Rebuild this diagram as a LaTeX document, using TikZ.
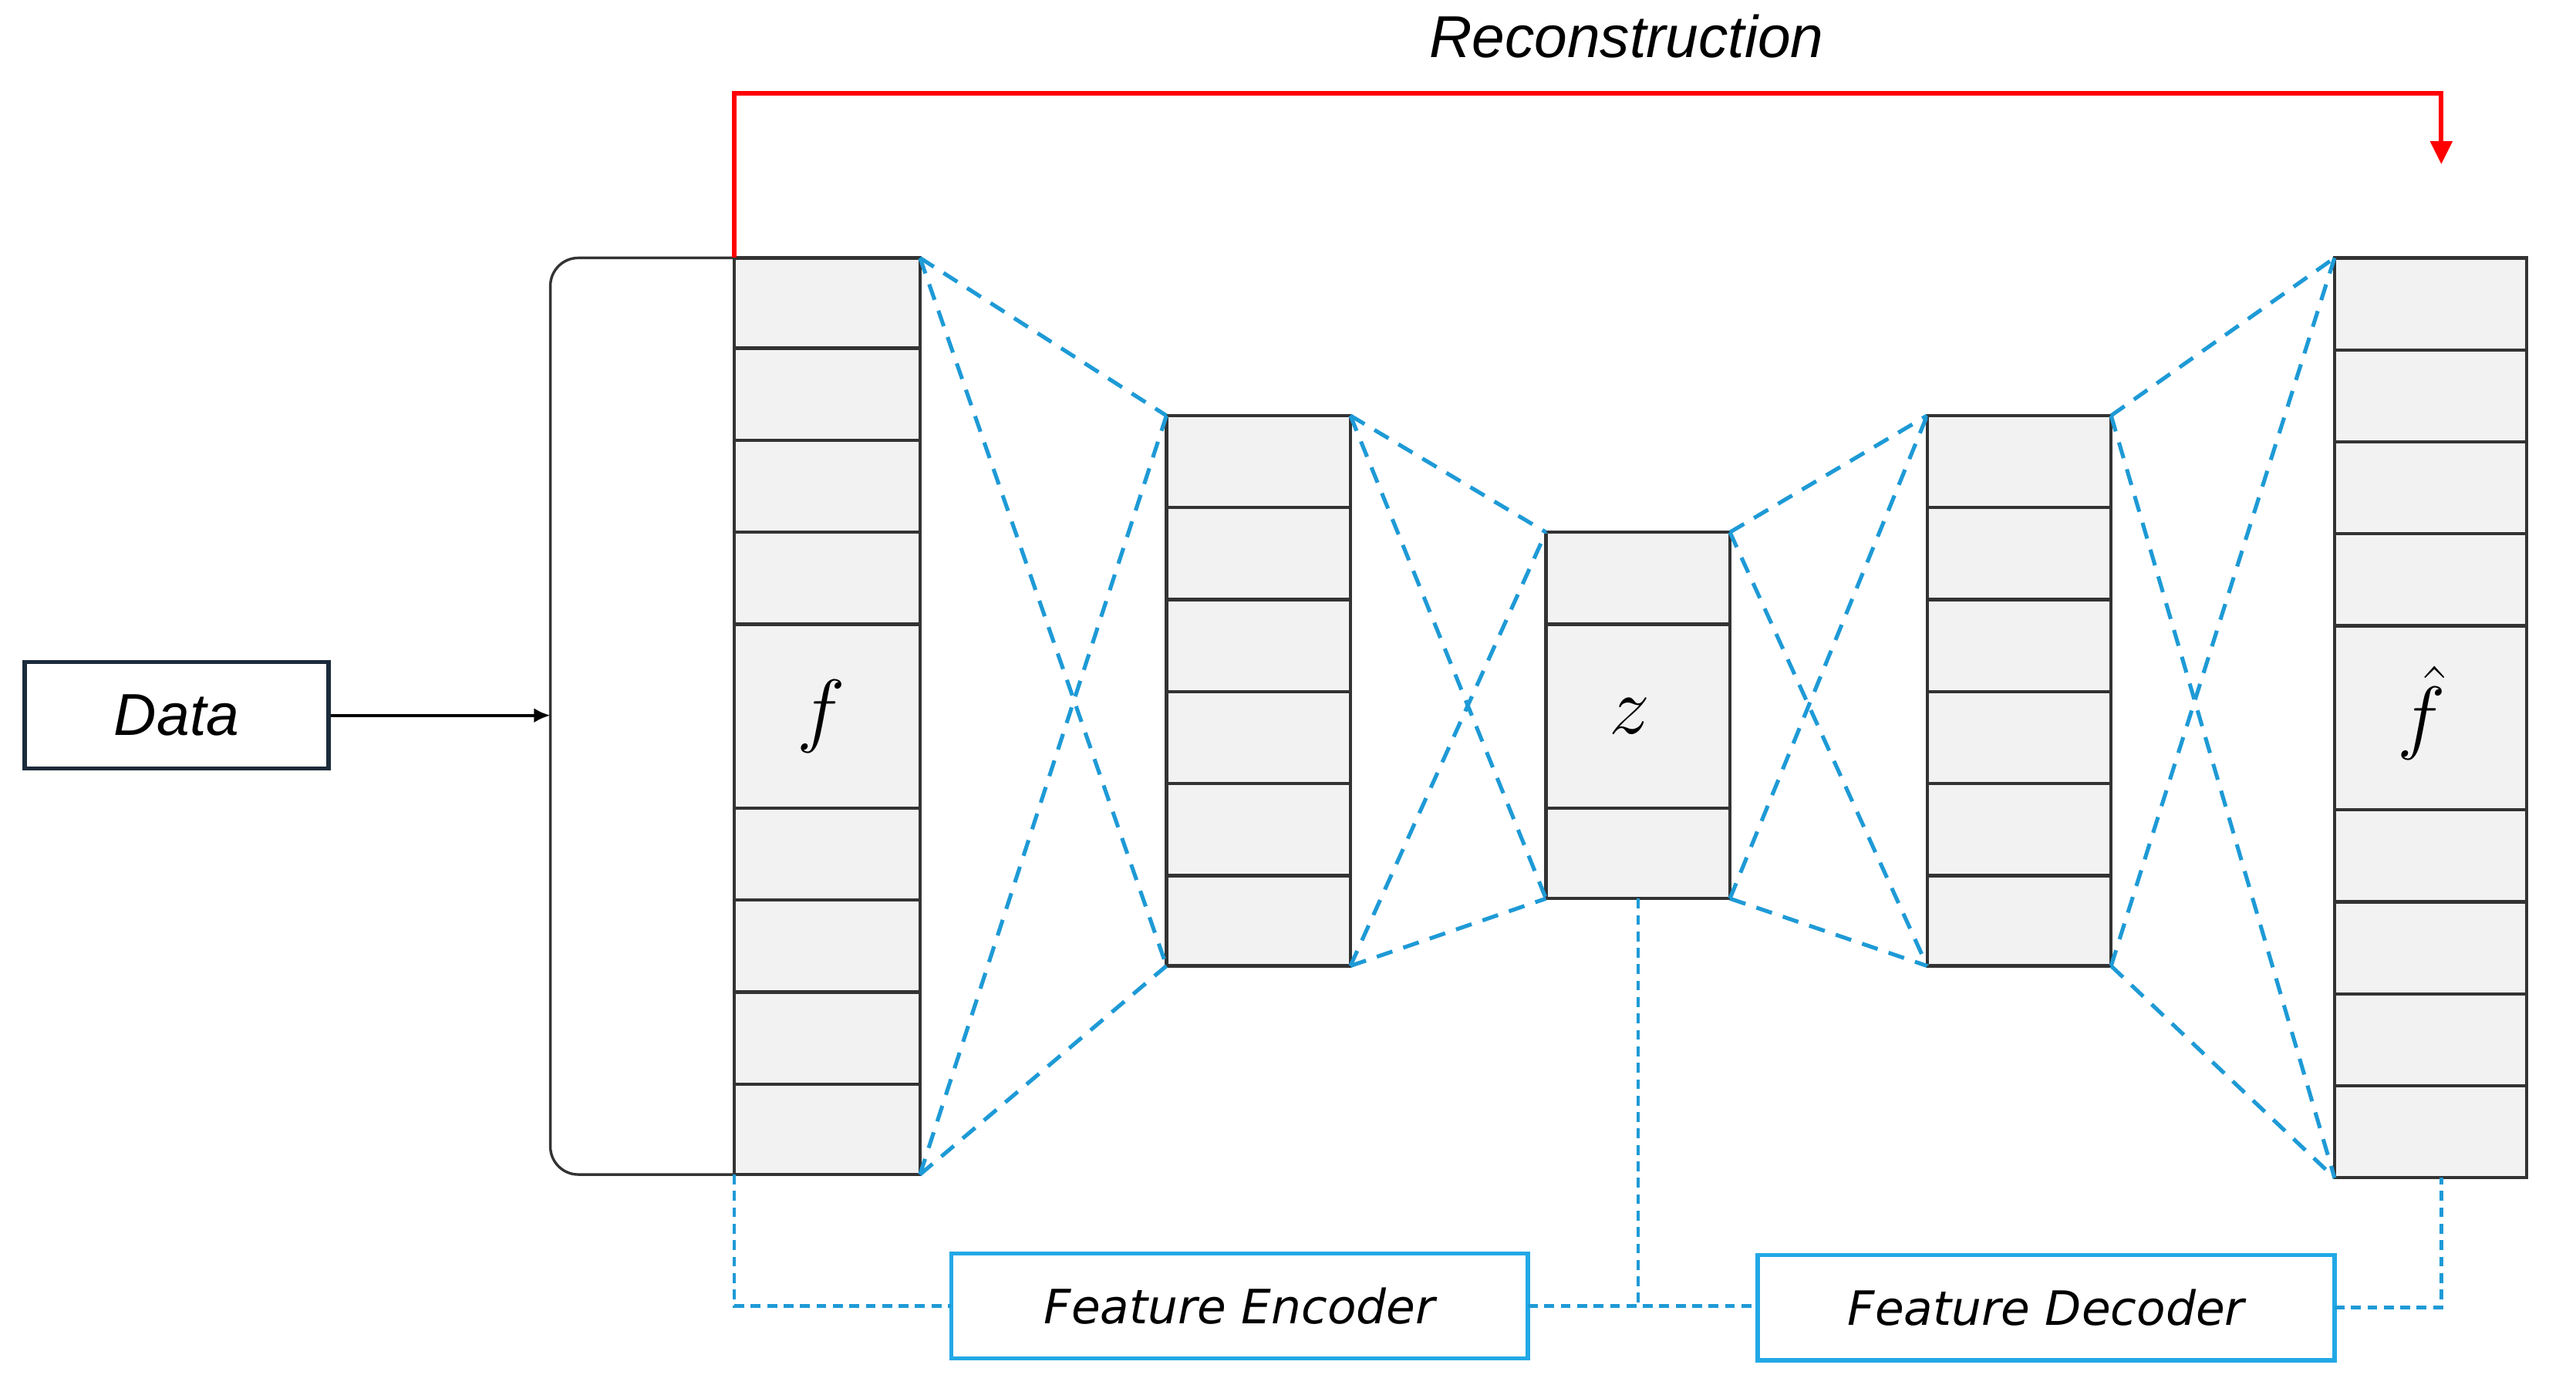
\documentclass[tikz,border=0pt]{standalone}
\usepackage{fontspec}
\setmainfont{Liberation Sans}
\newfontfamily\dejafont{DejaVu Sans}
\usetikzlibrary{arrows.meta,fit}
\definecolor{cellgray}{HTML}{F2F2F2}
\definecolor{edgegray}{HTML}{333333}
\definecolor{netblue}{HTML}{1E9AD6}
\definecolor{boxblue}{HTML}{22A8E6}
\definecolor{recred}{HTML}{FF0000}
\definecolor{datanavy}{HTML}{1C2B3A}
\begin{document}
\begin{tikzpicture}[x=0.5pt,y=-0.5pt,
  layer/.style={draw=edgegray, fill=cellgray, line width=1pt, inner sep=0pt, outer sep=0pt},
  cellline/.style={draw=edgegray, line width=1pt},
  link/.style={draw=netblue, line width=1.2pt, dash pattern=on 5pt off 3.5pt},
  thinlink/.style={draw=netblue, line width=1pt, dash pattern=on 3pt off 2pt},
  bluebox/.style={draw=boxblue, line width=1.3pt, inner sep=0pt, outer sep=0pt},
  lbl/.style={font=\itshape\fontsize{18}{20}\selectfont},
  boxlbl/.style={font=\dejafont\itshape\fontsize{14.4}{16}\selectfont},
  mathlbl/.style={font=\fontsize{25}{28}\selectfont, inner sep=0pt}]
\useasboundingbox (0,0) rectangle (1568,843);

% title
\node[lbl] (rec) at (990,22) {Reconstruction};

% data box
\node[draw=datanavy, line width=1.2pt, minimum width=92.5pt, minimum height=32.5pt, inner sep=0pt, lbl] (data) at (107.5,435.5) {Data};

% input bracket
\draw[edgegray, line width=0.8pt, rounded corners=8.5pt] (447,157) -- (335,157) -- (335,715) -- (447,715);
\coordinate (inleft) at (335,435.5);

% columns
\node[layer, fit={(447,157) (560,715)}] (f) {};
\foreach \yy in {212,268,324,380,492,548,604,660} \draw[cellline] (447,\yy) -- (560,\yy);
\node[mathlbl] (flbl) at (500,436) {$f$};

\node[layer, fit={(710,253) (822,588)}] (h1) {};
\foreach \yy in {309,365,421,477,533} \draw[cellline] (710,\yy) -- (822,\yy);

\node[layer, fit={(941,324) (1053,547)}] (z) {};
\foreach \yy in {380,492} \draw[cellline] (941,\yy) -- (1053,\yy);
\node[mathlbl] (zlbl) at (992,436) {$z$};

\node[layer, fit={(1173,253) (1285,588)}] (h2) {};
\foreach \yy in {309,365,421,477,533} \draw[cellline] (1173,\yy) -- (1285,\yy);

\node[layer, fit={(1421,157) (1538,717)}] (fh) {};
\foreach \yy in {213,269,325,381,493,549,605,661} \draw[cellline] (1421,\yy) -- (1538,\yy);
\node[mathlbl] (fhlbl) at (1474,434) {$\hat{f}$};

% network links
\foreach \a/\b in {f/h1, h1/z, z/h2, h2/fh} {
  \draw[link] (\a.north east) -- (\b.north west);
  \draw[link] (\a.north east) -- (\b.south west);
  \draw[link] (\a.south east) -- (\b.north west);
  \draw[link] (\a.south east) -- (\b.south west);
}

% data arrow
\draw[black, line width=1pt, -{Latex[length=5pt,width=4.5pt]}] (data.east) -- (inleft);

% reconstruction arrow
\coordinate (rectip) at (1486,100);
\draw[recred, line width=1.4pt, -{Triangle[length=7pt,width=6.5pt]}] (f.north west) -- ++(0,-100) -| (rectip);

% encoder / decoder boxes
\node[bluebox, minimum width=175.5pt, minimum height=32pt, boxlbl] (enc) at (754.5,795) {Feature Encoder};
\node[bluebox, minimum width=175.5pt, minimum height=32pt, boxlbl] (dec) at (1245.5,796) {Feature Decoder};

\coordinate (fhb) at (1486,717);
\draw[thinlink] (f.south west) |- (enc.west);
\draw[thinlink] (enc.east) -- (dec.west |- enc.east);
\draw[thinlink] (z.south) -- (z.south |- enc.east);
\draw[thinlink] (dec.east) -| (fhb);
\end{tikzpicture}
\end{document}
